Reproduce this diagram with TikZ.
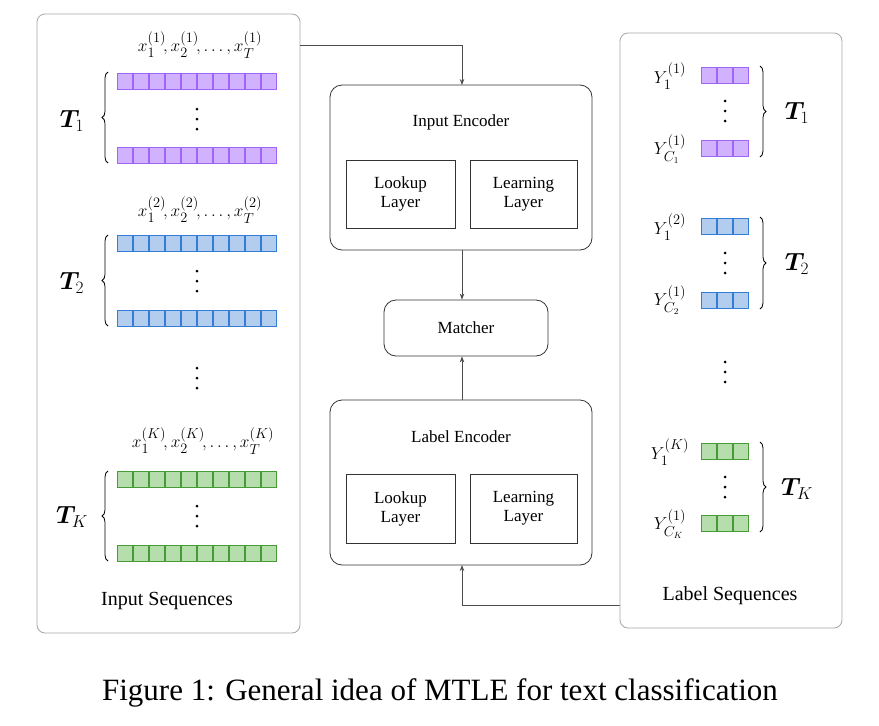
\documentclass[tikz,border=0pt]{standalone}
\usepackage{amsmath,bm}
\usepackage{fontspec}
\setmainfont{Liberation Serif}
\usetikzlibrary{decorations.pathreplacing,arrows.meta}
\definecolor{pf}{RGB}{208,178,255}\definecolor{pd}{RGB}{160,100,250}
\definecolor{bf}{RGB}{178,205,238}\definecolor{bd}{RGB}{50,125,215}
\definecolor{gf}{RGB}{182,222,172}\definecolor{gd}{RGB}{70,155,55}
\begin{document}
\begin{tikzpicture}[x=1pt,y=-1pt,
 panel/.style={draw=black!35,rounded corners=8pt,line width=0.8pt},
 box/.style={draw=black!80,rounded corners=12pt,line width=0.8pt},
 ibox/.style={draw=black!80,line width=0.8pt,align=center,font=\fontsize{17}{19}\selectfont},
 lab/.style={font=\fontsize{17}{19}\selectfont},
 mlab/.style={font=\fontsize{19}{21}\selectfont},
 arr/.style={draw=black!70,line width=0.8pt,-{Stealth[length=6pt]}},
 brc/.style={decorate,decoration={brace,amplitude=6pt},line width=0.8pt},
 big/.style={font=\fontsize{27}{29}\selectfont}]
\useasboundingbox (0,0) rectangle (879,726);
\newcommand\sqrow[5]{\foreach \i in {1,...,#3}{\draw[fill=#4,draw=#5,line width=0.8pt] ({#1+(\i-1)*16},{#2-8}) rectangle ++(15,16);}}
\newcommand\vdts[2]{\foreach \d in {-10,0,10}{\fill (#1,{#2+\d}) circle (1.5pt);}}
% left panel
\draw[panel] (37,14) rectangle (300,633);
\node[lab] (inseq) at (167,601) {\fontsize{20}{22}\selectfont Input Sequences};
\node[mlab] (h1) at (200,45) {$x_1^{(1)}\!,x_2^{(1)}\!,\ldots,x_T^{(1)}$};
\sqrow{117}{81}{10}{pf}{pd}\sqrow{117}{155}{10}{pf}{pd}\vdts{197}{119}
\draw[brc] (108,163)--(108,72);\node[big] (t1) at (72,121) {$\bm{T}_1$};
\node[mlab] (h2) at (200,210) {$x_1^{(2)}\!,x_2^{(2)}\!,\ldots,x_T^{(2)}$};
\sqrow{117}{243}{10}{bf}{bd}\sqrow{117}{318}{10}{bf}{bd}\vdts{197}{281}
\draw[brc] (108,326)--(108,235);\node[big] (t2) at (72,283) {$\bm{T}_2$};
\vdts{197}{378}
\node[mlab] (hk) at (203,441) {$x_1^{(K)}\!,x_2^{(K)}\!,\ldots,x_T^{(K)}$};
\sqrow{117}{479}{10}{gf}{gd}\sqrow{117}{553}{10}{gf}{gd}\vdts{197}{516}
\draw[brc] (108,561)--(108,471);\node[big] (tk) at (72,517) {$\bm{T}_K$};
% middle
\draw[box] (330,85) rectangle (592,250);
\node[lab] (ie) at (461,122) {Input Encoder};
\node[ibox,minimum width=109,minimum height=68] (l1) at (400.5,194) {Lookup\\Layer};
\node[ibox,minimum width=107,minimum height=68] (r1) at (523.5,194) {Learning\\Layer};
\node[box,minimum width=164,minimum height=56,lab] (m) at (466,328) {Matcher};
\draw[box] (330,400) rectangle (592,565);
\node[lab] (le) at (461,437) {Label Encoder};
\node[ibox,minimum width=109,minimum height=69] (l2) at (400.5,508.5) {Lookup\\Layer};
\node[ibox,minimum width=107,minimum height=69] (r2) at (523.5,508.5) {Learning\\Layer};
\coordinate (ie-top) at (462,85);\coordinate (ie-bot) at (462,250);
\coordinate (le-top) at (462,400);\coordinate (le-bot) at (462,565);
\coordinate (lp) at (300,45);\coordinate (rp) at (620,605);
\draw[arr] (lp) -| (ie-top);
\draw[arr] (ie-bot) -- (m.north-|ie-bot);
\draw[arr] (le-top) -- (m.south-|le-top);
\draw[arr] (rp) -| (le-bot);
% right panel
\draw[panel] (620,33) rectangle (842,628);
\node[lab] (lseq) at (730,596) {\fontsize{20}{22}\selectfont Label Sequences};
\node[mlab] (y1) at (670,76) {$Y_1^{(1)}$};\node[mlab] (yc1) at (670,149) {$Y_{C_1}^{(1)}$};
\sqrow{701}{75}{3}{pf}{pd}\sqrow{701}{148}{3}{pf}{pd}\vdts{725}{111}
\draw[brc] (760,66)--(760,157);\node[big] (rt1) at (797,113) {$\bm{T}_1$};
\node[mlab] (y2) at (670,227) {$Y_1^{(2)}$};\node[mlab] (yc2) at (670,300) {$Y_{C_2}^{(1)}$};
\sqrow{701}{226}{3}{bf}{bd}\sqrow{701}{300}{3}{bf}{bd}\vdts{725}{263}
\draw[brc] (760,217)--(760,309);\node[big] (rt2) at (797,264) {$\bm{T}_2$};
\vdts{725}{372}
\node[mlab] (yk) at (670,452) {$Y_1^{(K)}$};\node[mlab] (yck) at (670,524) {$Y_{C_K}^{(1)}$};
\sqrow{701}{451}{3}{gf}{gd}\sqrow{701}{523}{3}{gf}{gd}\vdts{725}{487}
\draw[brc] (760,442)--(760,532);\node[big] (rtk) at (797,489) {$\bm{T}_K$};
\node (cap) at (440,693) {\fontsize{31}{33}\selectfont Figure 1: General idea of MTLE for text classification};
\end{tikzpicture}
\end{document}
